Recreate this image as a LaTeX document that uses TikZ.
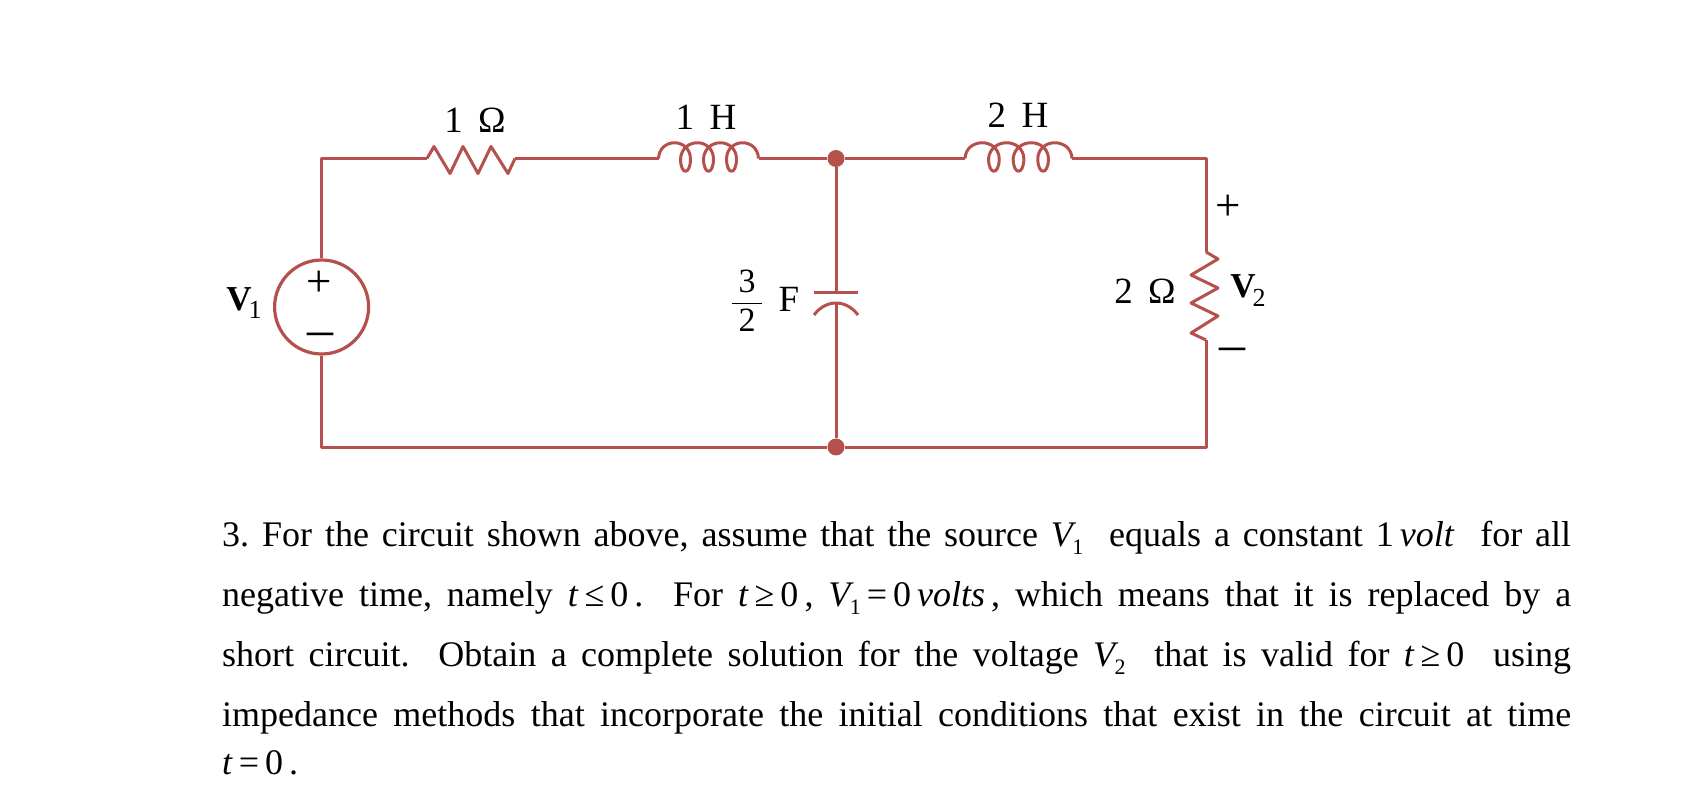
\documentclass[tikz,border=0pt]{standalone}
\usepackage{fontspec}
\usepackage{amsmath}
\setmainfont{Liberation Serif}
\usetikzlibrary{positioning}
\definecolor{wirered}{RGB}{181,80,77}

\newcommand{\srcname}[1]{\textbf{V}\kern-3pt\raisebox{-9pt}{\fontsize{26}{26}\selectfont #1}}
\newcommand{\volt}[1]{\textit{V}\kern-4pt\raisebox{-8pt}{\fontsize{22}{22}\selectfont #1}}
\newcommand{\fullline}[1]{\makebox[1349pt][s]{\frenchspacing\spaceskip=0pt\xspaceskip=0pt #1}}

\tikzset{
    wire/.style={draw=wirered, line width=3pt, line join=round},
    junction/.style={circle, fill=wirered, inner sep=0pt, minimum size=17pt},
    source/.style={circle, draw=wirered, line width=3.2pt, inner sep=0pt, minimum size=94pt},
    value/.style={inner sep=0pt, anchor=base, font=\fontsize{37}{37}\selectfont},
    srclabel/.style={inner sep=0pt, anchor=base, font=\fontsize{35}{35}\selectfont},
    signplus/.style={inner sep=0pt, anchor=base, font=\fontsize{45}{45}\selectfont},
    signminus/.style={inner sep=0pt, anchor=base, font=\fontsize{52}{52}\selectfont},
    problem/.style={inner sep=0pt, anchor=north west, text width=1349pt, align=left,
        font=\fontsize{36}{60}\selectfont},
    pics/resistor/.style={code={
        \draw[wire] (0,0) -- (7,-12) -- (23,15) -- (36,-12) -- (51,15) -- (64,-12) -- (81,15) -- (88,0);
    }},
    pics/inductor/.style={code={
        \draw[wire] (0,0) \foreach \x in {0,23,46} {
            .. controls (\x+1,-21) and (\x+31,-21) .. (\x+32,0)
            .. controls (\x+32,17) and (\x+22,17) .. (\x+22,0)
        } .. controls (69,-21) and (99,-21) .. (100,0);
    }}
}

\begin{document}
\begin{tikzpicture}[x=1pt, y=-1pt]
        \useasboundingbox (0,0) rectangle (1686,786);

        \coordinate (topleft) at (321.6,158.5);
        \coordinate (botleft) at (321.6,447);
        \coordinate (topright) at (1206,158.5);
        \coordinate (botright) at (1206,447);

        \node[junction] (jtop) at (836,158.5) {};
        \node[junction] (jbot) at (836,447) {};
        \node[source] (src) at (321.6,307) {};

        \coordinate (rone) at (427,158.5);
        \coordinate[right=88pt of rone] (roneend);
        \coordinate (lone) at (658.5,158.5);
        \coordinate[right=100pt of lone] (loneend);
        \coordinate (ltwo) at (965,158.5);
        \coordinate[right=107pt of ltwo] (ltwoend);
        \coordinate (rtwo) at (1206,252);
        \coordinate[below=88pt of rtwo] (rtwoend);
        \coordinate (capa) at (836,293);
        \coordinate[below=10pt of capa] (capb);

        \pic at (rone) {resistor};
        \pic at (lone) {inductor};
        \pic[xscale=1.07] at (ltwo) {inductor};
        \pic[rotate=-90] at (rtwo) {resistor};

        \draw[wire] (src.north) -- (topleft) -- (rone);
        \draw[wire] (roneend) -- (lone);
        \draw[wire] (loneend) -- (jtop.west);
        \draw[wire] (jtop.east) -- (ltwo);
        \draw[wire] (ltwoend) -- (topright) -- (rtwo);
        \draw[wire] (rtwoend) -- (botright) -- (jbot.east);
        \draw[wire] (jbot.west) -- (botleft) -- (src.south);
        \draw[wire] (jtop.south) -- (capa);
        \draw[wire] (capb) -- (jbot.north);

        % capacitor plates
        \draw[wire] ([xshift=-22pt]capa) -- ([xshift=22pt]capa);
        \draw[wire] ([shift={(-22,12)}]capb) .. controls ([shift={(-10,-4)}]capb) and ([shift={(10,-4)}]capb) .. ([shift={(22,12)}]capb);

        \node[value] (valrone) at (475,133) {1\ \,Ω};
        \node[value] (vallone) at (706,130) {1\ \,H};
        \node[value] (valltwo) at (1018,128) {2\ \,H};
        \node[value] (valrtwo) at (1145,303) {2\ \,Ω};
        \node[value] (valcapf) at (789,312) {F};
        \node[inner sep=0pt, font=\fontsize{34}{34}\selectfont] (valcapfrac) at (747,301) {$\genfrac{}{}{1.6pt}{0}{\;\text{3}\;}{\;\text{2}\;}$};

        \node[srclabel] (nameone) at (244,310) {\srcname{1}};
        \node[srclabel] (nametwo) at (1248,298) {\srcname{2}};
        \node[signplus] (srcplus) at (319.5,297) {+};
        \node[signminus] (srcminus) at (320,346) {–};
        \node[signplus] (outplus) at (1228,221) {+};
        \node[signminus] (outminus) at (1232,361) {–};

        \node[problem] (text) at (222,520.5) {%
            \fullline{3. For the circuit shown above, assume that the source \volt{1} \ equals a constant 1\,\textit{volt} \ for all}\\
            \fullline{negative time, namely \textit{t}\,≤\,0\,. \ For \textit{t}\,≥\,0\,, \volt{1}\,=\,0\,\textit{volts}\,, which means that it is replaced by a}\\
            \fullline{short circuit. \ Obtain a complete solution for the voltage \volt{2} \ that is valid for \textit{t}\,≥\,0 \ using}\\
            \fullline{impedance methods that incorporate the initial conditions that exist in the circuit at time}\\[-12pt]
            \textit{t}\,=\,0\,.};
    \end{tikzpicture}
\end{document}
